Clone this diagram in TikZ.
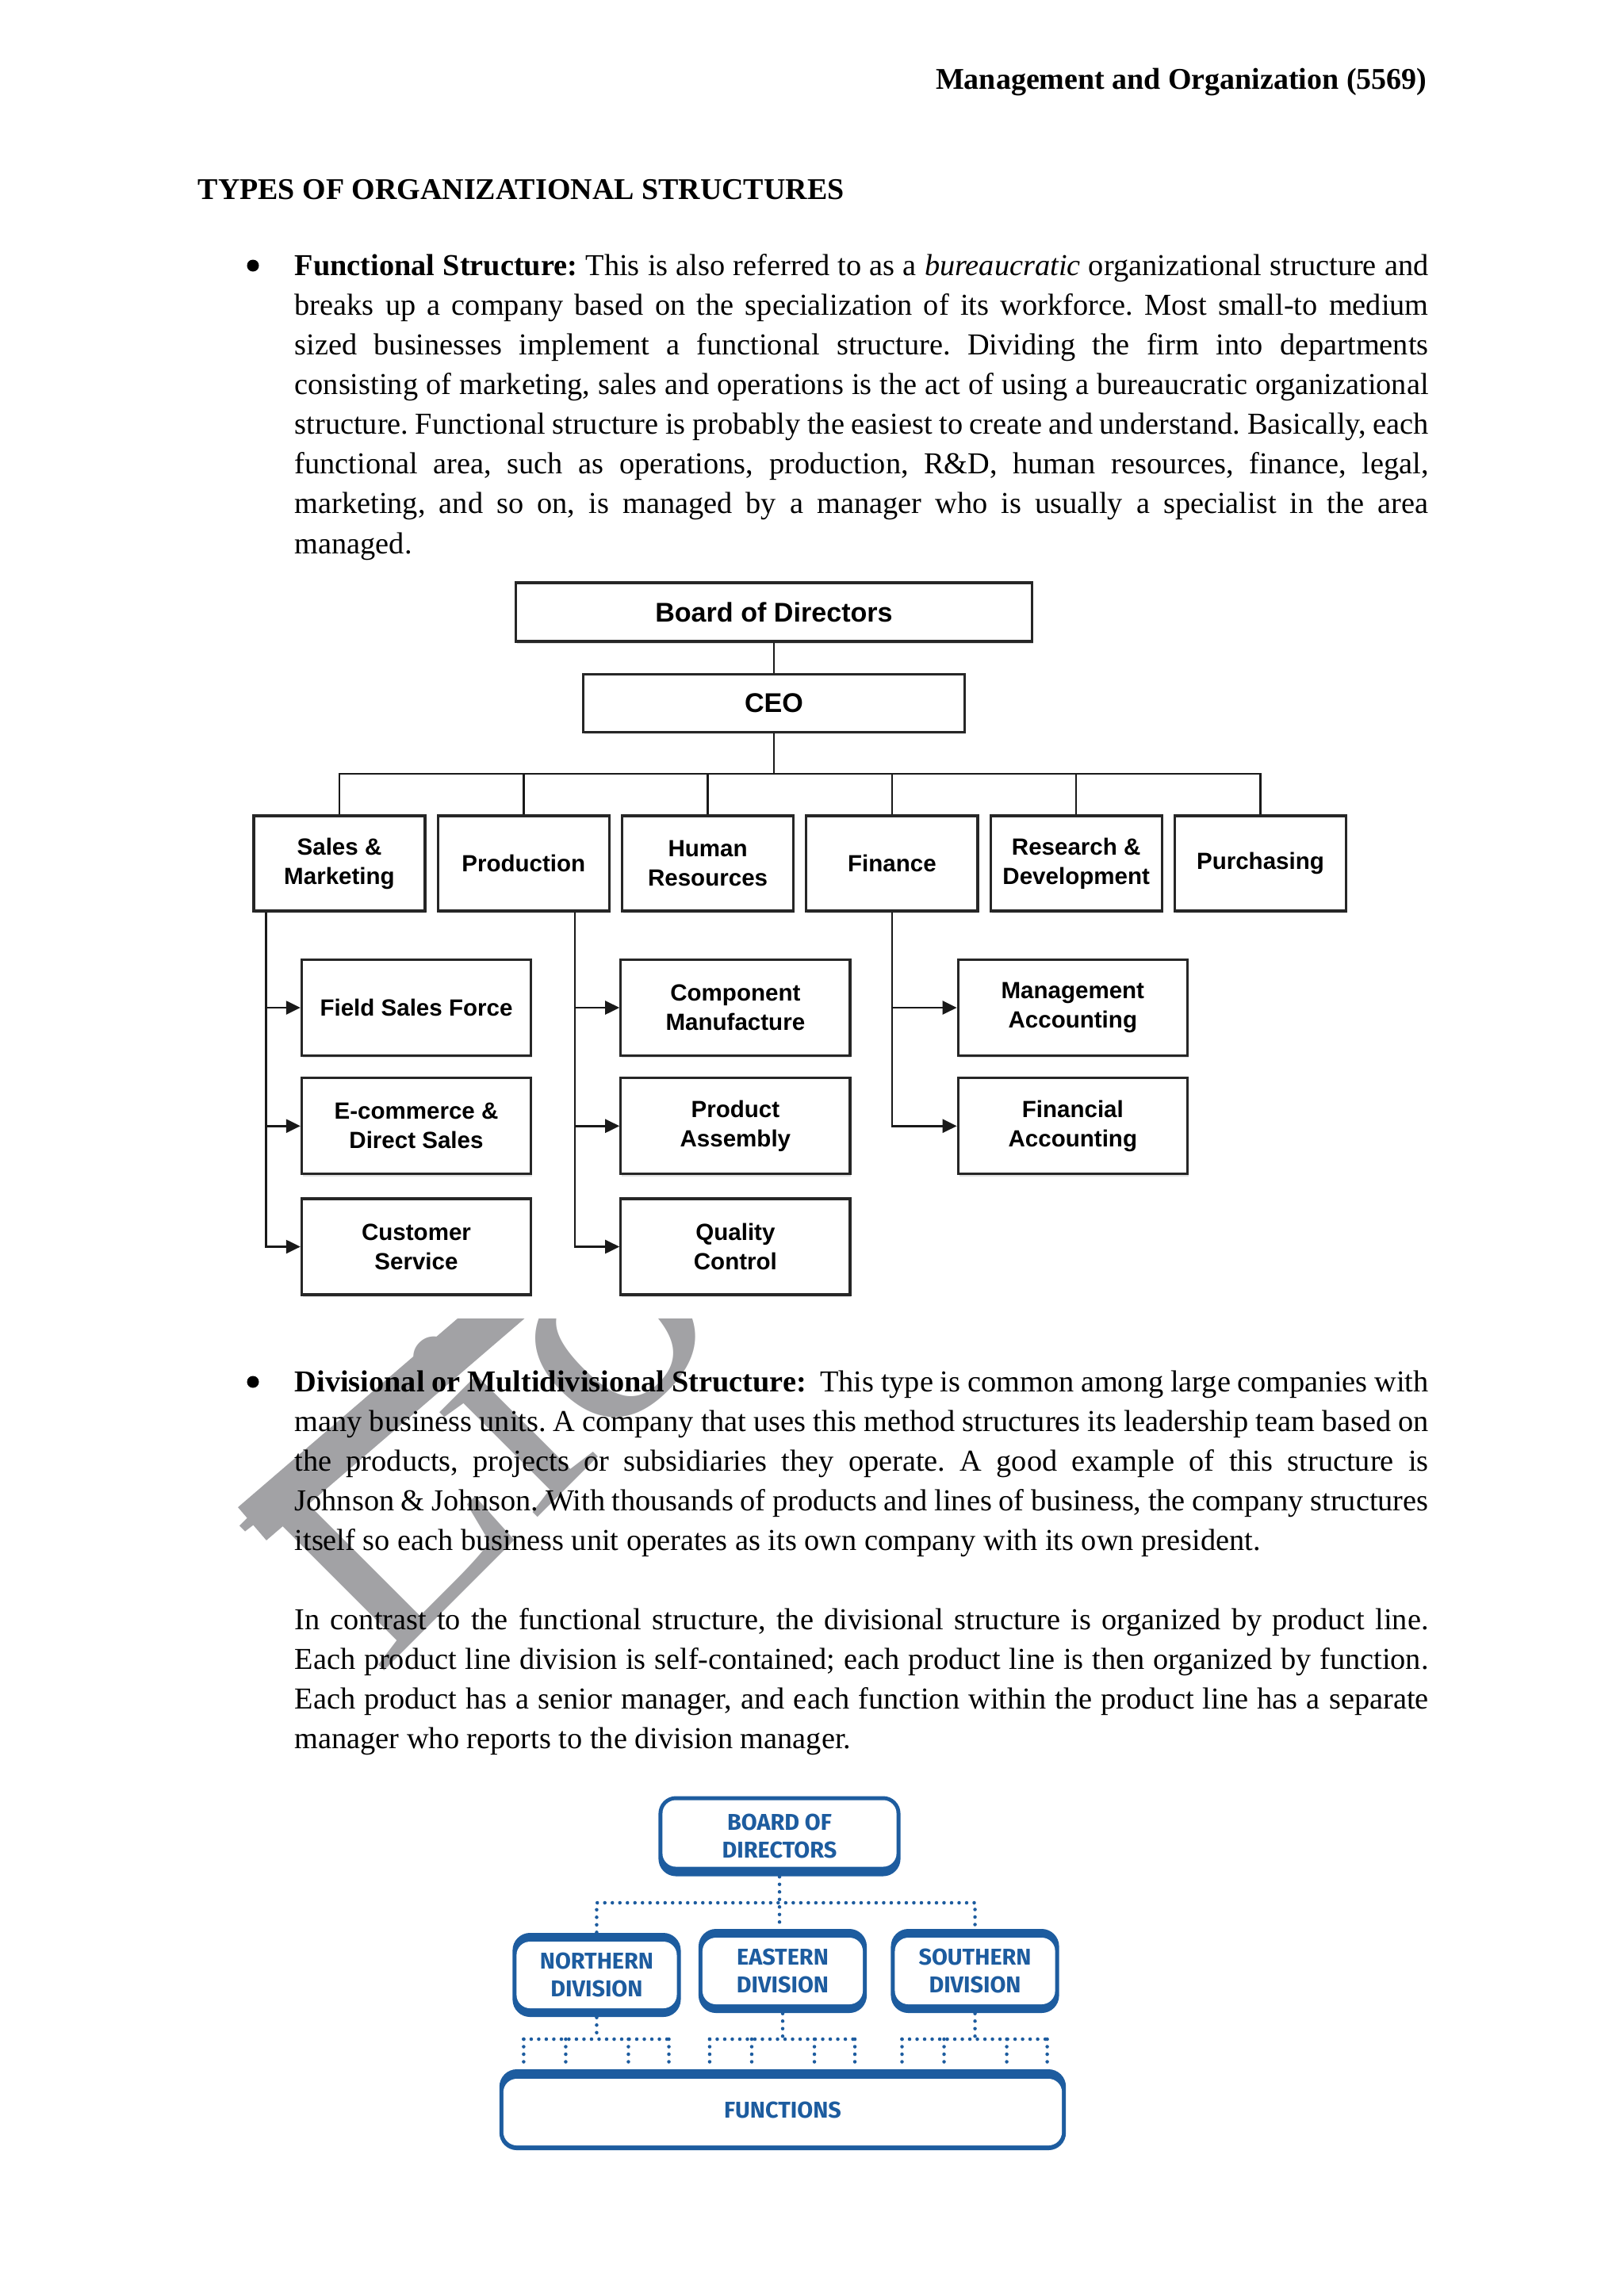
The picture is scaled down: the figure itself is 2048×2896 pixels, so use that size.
\documentclass[tikz,border=0pt]{standalone}
\usepackage{fontspec}
\setmainfont{Liberation Serif}
\newfontfamily\chartfont{Liberation Sans}
\newfontfamily\divfont{Fira Sans}
\newfontfamily\markfont[FakeStretch=1.15]{Liberation Serif}
\usetikzlibrary{positioning, calc, arrows.meta, shadows}
\definecolor{divblue}{HTML}{1D5C9F}
\definecolor{wmgray}{HTML}{A2A2A5}
\newlength{\linewd}
\setlength{\linewd}{14.29cm}
\frenchspacing
\tikzset{
  bodyline/.style={
    anchor=base west, inner sep=0pt, font=\fontsize{10.9}{14.25}\selectfont
  },
  bulletdot/.style={
    circle, fill=black, inner sep=0pt, minimum size=0.15cm
  },
  headbox/.style={
    rectangle, draw=black!85, line width=0.9pt, fill=white, align=center,
    font=\chartfont\fontsize{9.7}{11.5}\selectfont\bfseries,
    drop shadow={shadow xshift=0.4pt, shadow yshift=-0.8pt, opacity=0.25}
  },
  deptbox/.style={
    headbox, minimum width=2.16cm, minimum height=1.20cm,
    font=\chartfont\fontsize{8.4}{10.5}\selectfont\bfseries
  },
  unitbox/.style={
    deptbox, minimum width=2.89cm, minimum height=1.21cm
  },
  link/.style={draw=black!90, line width=0.7pt},
  feed/.style={link, -{Triangle[length=0.18cm, width=0.17cm]}},
  divbox/.style 2 args={
    rectangle, rounded corners=0.22cm, fill=divblue, text=divblue,
    align=center, inner sep=0pt,
    font=\divfont\fontsize{8.2}{10}\selectfont\bfseries,
    path picture={
      \fill[white, rounded corners=0.17cm]
        ([shift={(0.05cm,#2)}]path picture bounding box.south west) rectangle
        ([shift={(-0.05cm,-#1)}]path picture bounding box.north east);
    }
  },
  dotline/.style={
    draw=divblue, line width=0.045cm, line cap=round, dash pattern=on 0pt off 0.095cm
  }
}

\begin{document}
\begin{tikzpicture}[x=0.01cm, y=-0.01cm]

  \fill[white] (0,0) rectangle (2048,2896);
  \useasboundingbox (0,0) rectangle (2048,2896);

  % Watermark (hidden behind the first chart)
  \begin{scope}
    \clip (0,1663) rectangle (2048,2896);
    \draw[wmgray, line width=0.55cm] (318,1922) -- (660,1628);
    \node[rotate=45, anchor=base west, inner sep=0pt, text=wmgray,
          font=\markfont\fontsize{112}{112}\selectfont] (mark) at (475,2117) {Lio};
  \end{scope}

  % Page text
  \node[bodyline, anchor=base east, font=\fontsize{10.8}{13}\selectfont\bfseries] (header) at (1800,112) {Management and Organization (5569)};
  \node[bodyline, font=\fontsize{10.8}{13}\selectfont\bfseries] (title) at (249,251) {TYPES OF ORGANIZATIONAL STRUCTURES};

  \node[bulletdot] (dot1) at (319,335) {};
  \foreach \txt [count=\i from 0] in {
    {\textbf{Functional Structure:} This is also referred to as a \textit{bureaucratic} organizational structure and},
    {breaks up a company based on the specialization of its workforce. Most small-to medium},
    {sized businesses implement a functional structure. Dividing the firm into departments},
    {consisting of marketing, sales and operations is the act of using a bureaucratic organizational},
    {structure. Functional structure is probably the easiest to create and understand. Basically, each},
    {functional area, such as operations, production, R\&D, human resources, finance, legal,},
    {marketing, and so on, is managed by a manager who is usually a specialist in the area}%
  }{\node[bodyline] (fs\i) at (371,{347+50.1*\i}) {\makebox[\linewd][s]{\txt\unskip}};}
  \node[bodyline] (fs7) at (371,698) {managed.};

  \node[bulletdot] (dot2) at (319,1743) {};
  \foreach \txt [count=\i from 0] in {
    {\textbf{Divisional or Multidivisional Structure:}\ \ This type is common among large companies with},
    {many business units. A company that uses this method structures its leadership team based on},
    {the products, projects or subsidiaries they operate. A good example of this structure is},
    {Johnson \& Johnson. With thousands of products and lines of business, the company structures}%
  }{\node[bodyline] (dv\i) at (371,{1755+50*\i}) {\makebox[\linewd][s]{\txt\unskip}};}
  \node[bodyline] (dv4) at (371,1955) {itself so each business unit operates as its own company with its own president.};

  \foreach \txt [count=\i from 0] in {
    {In contrast to the functional structure, the divisional structure is organized by product line.},
    {Each product line division is self-contained; each product line is then organized by function.},
    {Each product has a senior manager, and each function within the product line has a separate}%
  }{\node[bodyline] (ct\i) at (371,{2055+50*\i}) {\makebox[\linewd][s]{\txt\unskip}};}
  \node[bodyline] (ct3) at (371,2205) {manager who reports to the division manager.};

  % Functional chart
  \node[headbox, minimum width=6.50cm, minimum height=0.74cm] (board) at (976,772) {Board of Directors};
  \node[headbox, minimum width=4.80cm, minimum height=0.73cm, below=0.38cm of board] (ceo) {CEO};

  \node[deptbox] (sales) at (428,1089) {Sales \&\\Marketing};
  \node[deptbox, right=0.13cm of sales] (prod) {Production};
  \node[deptbox, right=0.13cm of prod] (hr) {Human\\Resources};
  \node[deptbox, right=0.13cm of hr] (fin) {Finance};
  \node[deptbox, right=0.13cm of fin] (rnd) {Research \&\\Development};
  \node[deptbox, right=0.13cm of rnd] (purch) {Purchasing};

  \node[unitbox] (field) at (525,1271) {Field Sales Force};
  \node[unitbox, below=0.25cm of field] (ecom) {E-commerce \&\\Direct Sales};
  \node[unitbox, below=0.28cm of ecom] (care) {Customer\\Service};
  \node[unitbox, right=1.10cm of field] (comp) {Component\\Manufacture};
  \node[unitbox, below=0.25cm of comp] (assem) {Product\\Assembly};
  \node[unitbox, below=0.28cm of assem] (qual) {Quality\\Control};
  \node[unitbox, right=1.33cm of comp] (mgmt) {Management\\Accounting};
  \node[unitbox, below=0.25cm of mgmt] (facc) {Financial\\Accounting};

  \draw[link] (board) -- (ceo);
  \coordinate (bus) at ($(ceo.south)!0.5!(ceo.south |- sales.north)$);
  \draw[link] (ceo.south) -- (bus);
  \draw[link] (sales.north) |- (bus) -| (purch.north);
  \foreach \n in {prod,hr,fin,rnd} \draw[link] (\n.north) -- (\n.north |- bus);

  \coordinate (salesdrop) at ([xshift=0.17cm]sales.south west);
  \foreach \n in {field,ecom,care} \draw[feed] (salesdrop) |- (\n.west);
  \coordinate (proddrop) at ([xshift=-0.45cm]prod.south east);
  \foreach \n in {comp,assem,qual} \draw[feed] (proddrop) |- (\n.west);
  \foreach \n in {mgmt,facc} \draw[feed] (fin.south) |- (\n.west);

  % Divisional chart
  \node[divbox={0.05cm}{0.12cm}, minimum width=3.05cm, minimum height=1.01cm] (dboard) at (983,2316) {BOARD OF\\DIRECTORS};
  \node[divbox={0.11cm}{0.11cm}, minimum width=2.12cm, minimum height=1.06cm] (east) at (987,2486) {EASTERN\\DIVISION};
  \node[divbox={0.11cm}{0.11cm}, minimum width=2.12cm, minimum height=1.06cm, left=0.21cm of east, yshift=-0.05cm] (north) {NORTHERN\\DIVISION};
  \node[divbox={0.11cm}{0.11cm}, minimum width=2.12cm, minimum height=1.06cm, right=0.29cm of east] (south) {SOUTHERN\\DIVISION};
  \node[divbox={0.12cm}{0.06cm}, minimum width=7.14cm, minimum height=1.02cm] (funcs) at (987,2661) {FUNCTIONS};

  \coordinate (topbus) at (986,2400);
  \coordinate (lowbus) at (0,2572);
  \draw[dotline] (dboard.south) -- (dboard.south |- east.north);
  \draw[dotline] (north.north) |- (topbus) -| (south.north);
  \foreach \d in {north,east,south}{
    \draw[dotline] (\d.south) -- (\d.south |- lowbus);
    \draw[dotline] ([xshift=-0.92cm]\d.south |- lowbus) -- ([xshift=0.92cm]\d.south |- lowbus);
    \foreach \o in {-0.92,-0.39,0.40,0.91}{
      \coordinate (tap) at ([xshift=\o cm]\d.south |- lowbus);
      \draw[dotline] (tap) -- (tap |- funcs.north);
    }
  }

\end{tikzpicture}
\end{document}
